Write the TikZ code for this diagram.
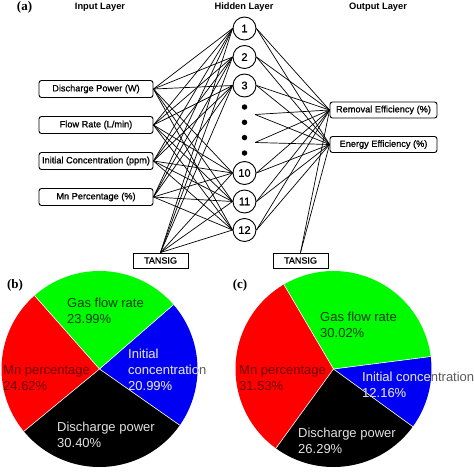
\documentclass[tikz,border=0pt]{standalone}
\usepackage{fontspec}
\setmainfont{Liberation Sans}
\newfontfamily\seriffont{Liberation Serif}
\newfontfamily\heavyfont[FakeBold=0.9]{Liberation Sans}
\definecolor{pred}{RGB}{255,0,0}
\definecolor{pgreen}{RGB}{0,250,0}
\definecolor{pblue}{RGB}{0,0,245}
\definecolor{tgreen}{RGB}{10,60,10}
\definecolor{tred}{RGB}{110,0,0}
\definecolor{tblue}{RGB}{215,215,255}
\definecolor{tblack}{RGB}{225,225,225}
\definecolor{tout}{RGB}{90,90,90}
\begin{document}
\begin{tikzpicture}[x=1pt,y=-1pt,
  conn/.style={line width=0.7pt},
  inbox/.style={draw, line width=0.9pt, rounded corners=2.5pt, minimum width=114pt, minimum height=17pt, inner sep=0pt, font=\fontsize{9.2}{10}\heavyfont},
  outbox/.style={inbox, minimum width=107pt, minimum height=16pt},
  tbox/.style={draw, line width=0.9pt, minimum width=55pt, minimum height=15pt, inner sep=0pt, font=\fontsize{9}{10}\heavyfont},
  hnode/.style={draw, circle, line width=0.9pt, minimum size=23pt, inner sep=0pt, font=\fontsize{11}{12}\heavyfont},
  dotnode/.style={fill, circle, minimum size=5.5pt, inner sep=0pt},
  hdr/.style={font=\fontsize{9.3}{10}\selectfont\bfseries},
  plbl/.style={font=\fontsize{13}{14}\seriffont\bfseries},
  ptxt/.style={anchor=west, align=left, inner sep=0pt, font=\fontsize{13}{16}\selectfont},
  divider/.style={white, line width=0.6pt},
]
\useasboundingbox (0,0) rectangle (474,474);

% ---------- (a) network ----------
\node[plbl] (la) at (24.5,7) {(a)};
\node[hdr] (hin) at (100,7) {Input Layer};
\node[hdr] (hhid) at (244,7) {Hidden Layer};
\node[hdr] (hout) at (378,7) {Output Layer};

\node[inbox] (i1) at (96,89) {Discharge Power (W)};
\node[inbox] (i2) at (96,125) {Flow Rate (L/min)};
\node[inbox] (i3) at (96,161) {Initial Concentration (ppm)};
\node[inbox] (i4) at (96,197) {Mn Percentage (\%)};

\node[hnode] (h1) at (244.5,28.5) {1};
\node[hnode] (h2) at (244.5,57) {2};
\node[hnode] (h3) at (244.5,85.5) {3};
\node[hnode] (h10) at (244.5,173) {10};
\node[hnode] (h11) at (244.5,201.5) {11};
\node[hnode] (h12) at (244.5,230) {12};

\node[dotnode] (k1) at (244.5,107) {};
\node[dotnode] (k2) at (244.5,122.3) {};
\node[dotnode] (k3) at (244.5,137.6) {};
\node[dotnode] (k4) at (244.5,153) {};
\coordinate (d1) at (255,114.5);
\coordinate (d2) at (255,142.5);

\node[outbox] (o1) at (383.5,110) {Removal Efficiency (\%)};
\node[outbox] (o2) at (383.5,144.5) {Energy Efficiency (\%)};

\node[tbox] (t1) at (160.5,260.5) {TANSIG};
\node[tbox] (t2) at (300.5,260.5) {TANSIG};

\foreach \i in {i1,i2,i3,i4}{
  \foreach \h in {h1,h2,h3,h10,h11,h12}{
    \draw[conn] (\i.east) -- (\h.west);
  }
}
\foreach \h in {h1,h2,h3,h10,h11,h12}{
  \draw[conn] (t1.north) -- (\h.west);
  \foreach \o in {o1,o2}{
    \draw[conn] (\h.east) -- (\o.west);
  }
}
\foreach \o in {o1,o2}{
  \draw[conn] (d1) -- (\o.west);
  \draw[conn] (d2) -- (\o.west);
  \draw[conn] (t2.north) -- (\o.west);
}

% ---------- (b) pie ----------
\node[plbl] (lb) at (15,285) {(b)};
\coordinate (pb) at (99.5,369);
\fill[pblue]  (pb) -- ++(35:98) arc[start angle=35, end angle=-41, radius=98] -- cycle;
\fill[pgreen] (pb) -- ++(-41:98) arc[start angle=-41, end angle=-131.5, radius=98] -- cycle;
\fill[pred]   (pb) -- ++(-131.5:98) arc[start angle=-131.5, end angle=-219.5, radius=98] -- cycle;
\fill[black]  (pb) -- ++(-219.5:98) arc[start angle=-219.5, end angle=-325, radius=98] -- cycle;
\foreach \a in {35,-41,-131.5,-219.5}{
  \draw[divider] (pb) -- ++(\a:98);
}
\node[ptxt, text=tgreen] (b1) at (67,311) {Gas flow rate\\23.99\%};
\node[ptxt, text=tred] (b2) at (3,378.5) {Mn percentage\\24.62\%};
\node[ptxt, text=tout] (b3) at (128,369.5) {Initial\\concentration\\20.99\%};
\begin{scope}
  \clip (pb) circle[radius=98];
  \node[ptxt, text=tblue] (b3w) at (128,369.5) {Initial\\concentration\\20.99\%};
\end{scope}
\node[ptxt, text=tblack] (b4) at (57,435) {Discharge power\\30.40\%};

% ---------- (c) pie ----------
\node[plbl] (lc) at (240,285) {(c)};
\coordinate (pc) at (333.5,369);
\fill[pblue]  (pc) -- ++(36:98) arc[start angle=36, end angle=-7.3, radius=98] -- cycle;
\fill[pgreen] (pc) -- ++(-7.3:98) arc[start angle=-7.3, end angle=-120.4, radius=98] -- cycle;
\fill[pred]   (pc) -- ++(-120.4:98) arc[start angle=-120.4, end angle=-234, radius=98] -- cycle;
\fill[black]  (pc) -- ++(-234:98) arc[start angle=-234, end angle=-324, radius=98] -- cycle;
\foreach \a in {36,-7.3,-120.4,-234}{
  \draw[divider] (pc) -- ++(\a:98);
}
\node[ptxt, text=tgreen] (c1) at (320,325) {Gas flow rate\\30.02\%};
\node[ptxt, text=tred] (c2) at (239,378.5) {Mn percentage\\31.53\%};
\node[ptxt, text=tout] (c3) at (362,384.5) {Initial concentration\\12.16\%};
\begin{scope}
  \clip (pc) circle[radius=98];
  \node[ptxt, text=tblue] (c3w) at (362,384.5) {Initial concentration\\12.16\%};
\end{scope}
\node[ptxt, text=tblack] (c4) at (298,441) {Discharge power\\26.29\%};
\end{tikzpicture}
\end{document}
